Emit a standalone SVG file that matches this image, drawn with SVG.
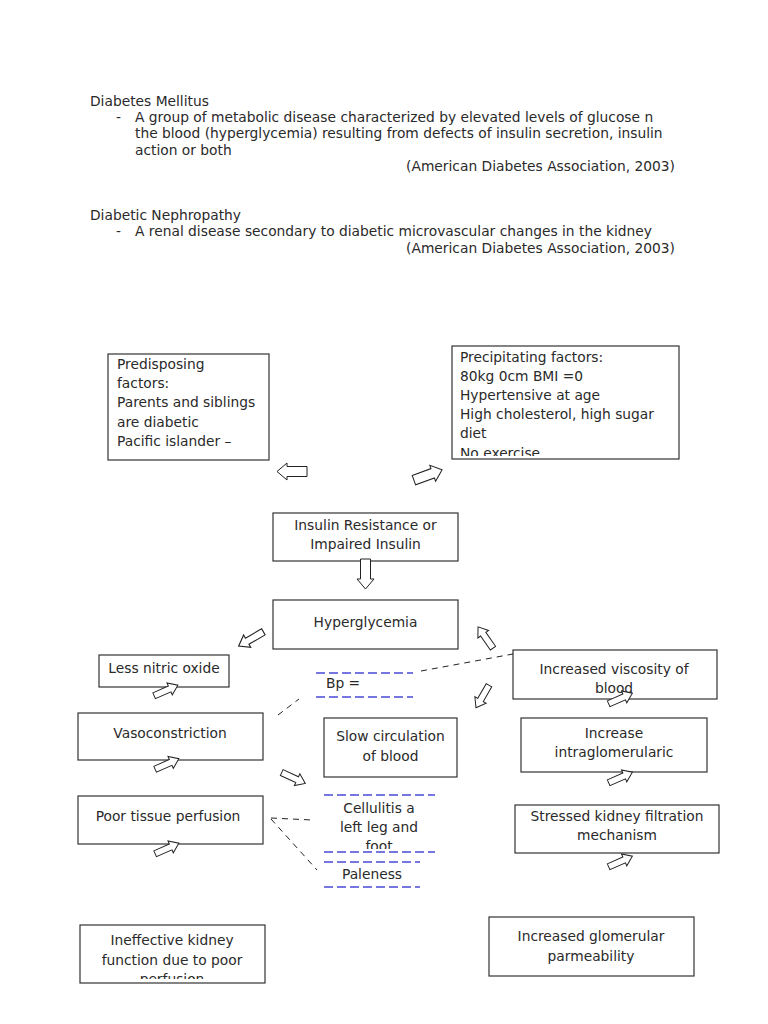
<svg xmlns="http://www.w3.org/2000/svg" width="768" height="1024" viewBox="0 0 768 1024">
<style>
text{font-family:"DejaVu Sans","Noto Sans",sans-serif;font-size:13.8px;fill:#2a2a2a}
.c{text-anchor:middle}
.r{text-anchor:end}
.box{fill:#fff;stroke:#333;stroke-width:1.2}
.arr{fill:#fff;stroke:#222;stroke-width:1}
.dash{fill:none;stroke:#222;stroke-width:1;stroke-dasharray:6 5}
.blue{fill:none;stroke:#4a4ad8;stroke-width:1.3;stroke-dasharray:9 4}
</style>
<defs>
<path id="big" d="M-15,-5 H5 V-8.5 L15,0 L5,8.5 V5 H-15 Z"/>
<path id="small" d="M-13,-3.2 H4 V-6.5 L13,0 L4,6.5 V3.2 H-13 Z"/>
<clipPath id="clipPre"><rect x="452" y="346" width="227" height="110"/></clipPath>
<clipPath id="clipCel"><rect x="320" y="796" width="120" height="53"/></clipPath>
<clipPath id="clipInef"><rect x="80" y="925" width="185" height="54"/></clipPath>
</defs>
<rect width="768" height="1024" fill="#fff"/>

<g id="intro">
<text x="90" y="106">Diabetes Mellitus</text>
<text x="116" y="122">-</text>
<text x="135" y="122">A group of metabolic disease characterized by elevated levels of glucose n</text>
<text x="135" y="138">the blood (hyperglycemia) resulting from defects of insulin secretion, insulin</text>
<text x="135" y="155">action or both</text>
<text class="r" x="675" y="171">(American Diabetes Association, 2003)</text>
<text x="90" y="220">Diabetic Nephropathy</text>
<text x="116" y="236">-</text>
<text x="135" y="236">A renal disease secondary to diabetic microvascular changes in the kidney</text>
<text class="r" x="675" y="253">(American Diabetes Association, 2003)</text>
</g>

<g id="predisposing">
<rect class="box" x="108" y="354" width="161" height="106"/>
<text x="117" y="369">Predisposing</text>
<text x="117" y="388">factors:</text>
<text x="117" y="407">Parents and siblings</text>
<text x="117" y="427">are diabetic</text>
<text x="117" y="446">Pacific islander –</text>
</g>

<g id="precipitating">
<rect class="box" x="452" y="346" width="227" height="113"/>
<g clip-path="url(#clipPre)">
<text x="460" y="362">Precipitating factors:</text>
<text x="460" y="381">80kg 0cm BMI =0</text>
<text x="460" y="400">Hypertensive at age</text>
<text x="460" y="419">High cholesterol, high sugar</text>
<text x="460" y="438">diet</text>
<text x="460" y="458">No exercise</text>
</g>
</g>

<g id="insulin">
<rect class="box" x="273" y="513" width="185" height="48"/>
<text class="c" x="365.5" y="530">Insulin Resistance or</text>
<text class="c" x="365.5" y="549">Impaired Insulin</text>
</g>

<g id="hyperglycemia">
<rect class="box" x="273" y="600" width="185" height="49"/>
<text class="c" x="365.5" y="627">Hyperglycemia</text>
</g>

<g id="nitric">
<rect class="box" x="99" y="655" width="130" height="32"/>
<text class="c" x="164" y="673">Less nitric oxide</text>
</g>

<g id="bp">
<path class="blue" d="M316,673 H413"/>
<text x="326" y="688">Bp =</text>
<path class="blue" d="M316,697 H413"/>
</g>

<g id="viscosity">
<rect class="box" x="513" y="650" width="204" height="49"/>
<text class="c" x="614" y="674">Increased viscosity of</text>
<text class="c" x="614" y="693">blood</text>
</g>

<g id="vasoconstriction">
<rect class="box" x="78" y="713" width="185" height="47"/>
<text class="c" x="170" y="738">Vasoconstriction</text>
</g>

<g id="slow">
<rect class="box" x="324" y="718" width="133" height="59"/>
<text class="c" x="390.5" y="741">Slow circulation</text>
<text class="c" x="390.5" y="761">of blood</text>
</g>

<g id="intraglomerular">
<rect class="box" x="521" y="718" width="186" height="54"/>
<text class="c" x="614" y="738">Increase</text>
<text class="c" x="614" y="757">intraglomerularic</text>
</g>

<g id="perfusion">
<rect class="box" x="78" y="796" width="185" height="48"/>
<text class="c" x="168" y="821">Poor tissue perfusion</text>
</g>

<g id="cellulitis">
<path class="blue" d="M324,795 H435"/>
<g clip-path="url(#clipCel)">
<text class="c" x="379" y="813">Cellulitis a</text>
<text class="c" x="379" y="832">left leg and</text>
<text class="c" x="379" y="851">foot</text>
</g>
<path class="blue" d="M324,852 H435"/>
</g>

<g id="paleness">
<path class="blue" d="M324,862 H420"/>
<text class="c" x="372" y="879">Paleness</text>
<path class="blue" d="M324,887 H420"/>
</g>

<g id="stressed">
<rect class="box" x="515" y="805" width="204" height="48"/>
<text class="c" x="617" y="821">Stressed kidney filtration</text>
<text class="c" x="617" y="840">mechanism</text>
</g>

<g id="ineffective">
<rect class="box" x="80" y="925" width="185" height="58"/>
<g clip-path="url(#clipInef)">
<text class="c" x="172" y="945">Ineffective kidney</text>
<text class="c" x="172" y="965">function due to poor</text>
<text class="c" x="172" y="984">perfusion</text>
</g>
</g>

<g id="glomerular">
<rect class="box" x="489" y="917" width="205" height="59"/>
<text class="c" x="591" y="941">Increased glomerular</text>
<text class="c" x="591" y="961">parmeability</text>
</g>

<g id="connectors">
<path class="dash" d="M421,671 L513,654"/>
<path class="dash" d="M278,715 L299,699"/>
<path class="dash" d="M271,818 L312,820"/>
<path class="dash" d="M271,819 L317,870"/>
<use href="#big" class="arr" transform="translate(292,471.5) rotate(180)"/>
<use href="#big" class="arr" transform="translate(428,475) rotate(-20)"/>
<use href="#big" class="arr" transform="translate(365.5,574) rotate(90)"/>
<use href="#small" class="arr" transform="translate(251,639) rotate(150) scale(1.1)"/>
<use href="#small" class="arr" transform="translate(485.5,637.5) rotate(-125)"/>
<use href="#small" class="arr" transform="translate(482.5,696.5) rotate(120)"/>
<use href="#small" class="arr" transform="translate(293.5,778) rotate(25)"/>
<use href="#small" class="arr" transform="translate(166,690.5) rotate(-24)"/>
<use href="#small" class="arr" transform="translate(167,764) rotate(-24)"/>
<use href="#small" class="arr" transform="translate(167,848.5) rotate(-24)"/>
<use href="#small" class="arr" transform="translate(620.5,698.5) rotate(-24)"/>
<use href="#small" class="arr" transform="translate(620.5,777.5) rotate(-24)"/>
<use href="#small" class="arr" transform="translate(620.5,861.5) rotate(-24)"/>
</g>
</svg>
